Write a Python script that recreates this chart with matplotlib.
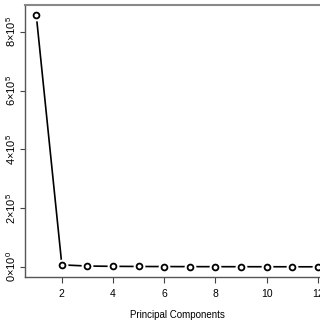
import matplotlib
matplotlib.use("Agg")
import matplotlib.pyplot as plt

# Scree plot values (variance per principal component)
components = list(range(1, 13))
variances = [857000, 7000, 3000, 2000, 1500, 1200, 1000, 800, 700, 600, 500, 400]

x_ticks = [2, 4, 6, 8, 10, 12]
y_ticks = [0, 200000, 400000, 600000, 800000]
y_labels = [r"$0{\times}10^0$", r"$2{\times}10^5$", r"$4{\times}10^5$",
            r"$6{\times}10^5$", r"$8{\times}10^5$"]

plt.rcParams["font.family"] = ["Liberation Sans", "DejaVu Sans"]
plt.rcParams["mathtext.fontset"] = "custom"
plt.rcParams["mathtext.rm"] = "Liberation Sans"
plt.rcParams["mathtext.it"] = "Liberation Sans"

fig = plt.figure(figsize=(3.2, 3.2), dpi=100)
# axes run past the right edge, as in the cropped original
ax = fig.add_axes([25 / 320, 43 / 320, 304 / 320, 272 / 320])

# R type="b": line with gaps around open circles
ax.plot(components, variances, color="black", lw=1.2, zorder=2)
ax.plot(components, variances, ls="none", marker="o", ms=7.5,
        mfc="white", mec="white", zorder=3)
ax.plot(components, variances, ls="none", marker="o", ms=4.2,
        mfc="white", mec="black", mew=1.3, zorder=4)

ax.set_xlim(0.56, 12.44)
ax.set_ylim(-34300, 891300)

ax.set_xticks(x_ticks)
ax.set_yticks(y_ticks)
ax.set_yticklabels(y_labels, rotation=90, va="center")
ax.tick_params(axis="x", length=4.3, width=0.8, color="#444444",
               labelsize=7.5, pad=4)
ax.tick_params(axis="y", length=3.6, width=0.8, color="#444444",
               labelsize=8, pad=1.5)

for s in ax.spines.values():
    s.set_color("#555555")
    s.set_linewidth(1.0)
ax.spines["top"].set_color("#888888")
ax.spines["top"].set_linewidth(1.5)

ax.set_xlabel("Principal Components", fontsize=7, labelpad=8)

fig.savefig("out.png", dpi=100, facecolor="white")
